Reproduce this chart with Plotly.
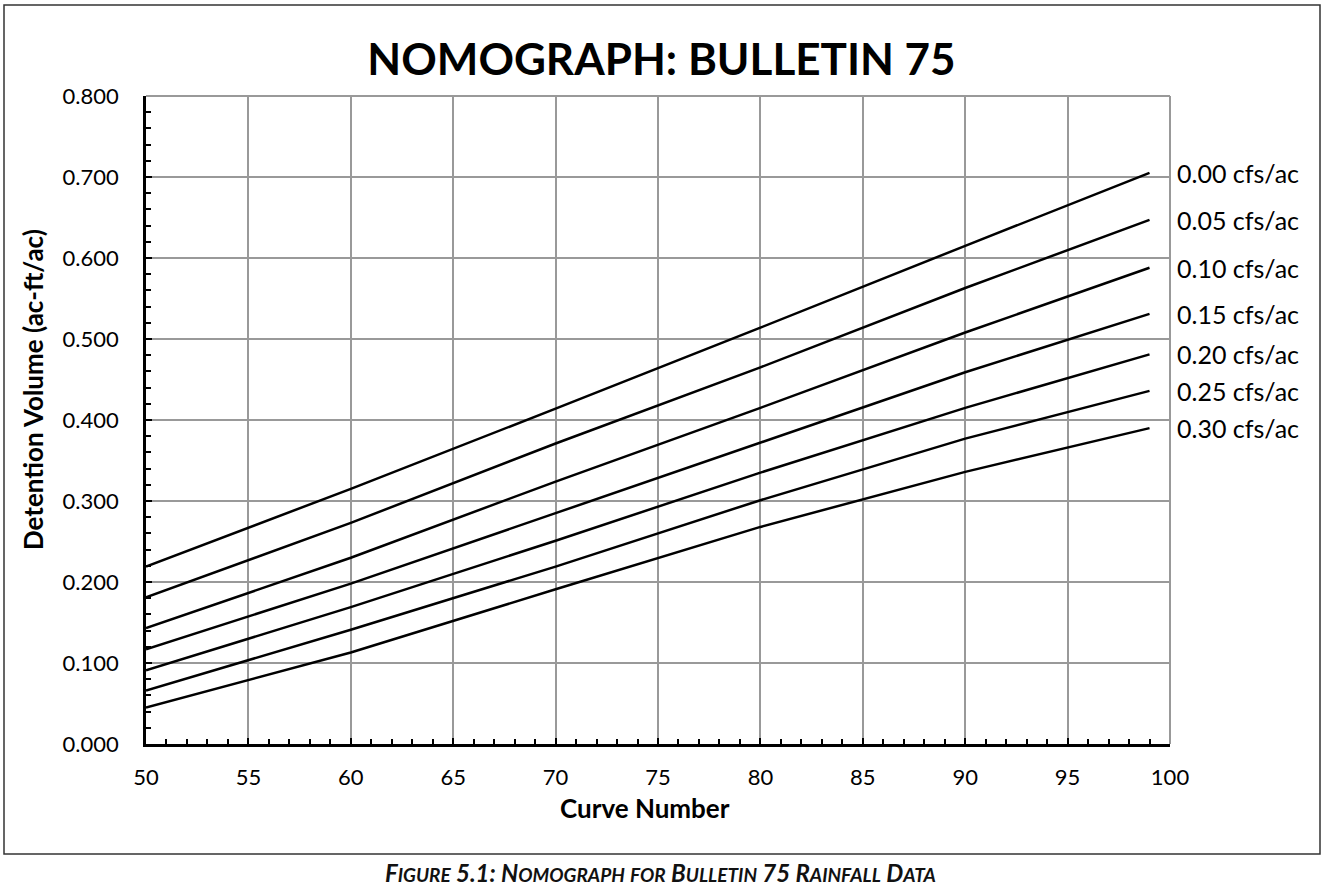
import plotly.graph_objects as go

curve_numbers = [50, 60, 70, 80, 90, 99]
release_labels = ["0.00 cfs/ac", "0.05 cfs/ac", "0.10 cfs/ac", "0.15 cfs/ac",
                  "0.20 cfs/ac", "0.25 cfs/ac", "0.30 cfs/ac"]
vol_000 = [0.219, 0.315, 0.414, 0.514, 0.615, 0.705]
vol_005 = [0.181, 0.273, 0.371, 0.465, 0.563, 0.647]
vol_010 = [0.143, 0.230, 0.324, 0.415, 0.508, 0.588]
vol_015 = [0.117, 0.198, 0.285, 0.372, 0.459, 0.531]
vol_020 = [0.091, 0.169, 0.251, 0.335, 0.415, 0.481]
vol_025 = [0.066, 0.141, 0.219, 0.301, 0.377, 0.436]
vol_030 = [0.045, 0.113, 0.191, 0.268, 0.336, 0.390]
series = [vol_000, vol_005, vol_010, vol_015, vol_020, vol_025, vol_030]

FONT = "Lato"
fig = go.Figure()
for lab, vals in zip(release_labels, series):
    fig.add_trace(go.Scatter(x=curve_numbers, y=vals, mode="lines",
                             line=dict(color="black", width=2.5), name=lab,
                             showlegend=False))
    fig.add_annotation(x=100, y=vals[-1], xref="x", yref="y", text=lab,
                       xanchor="left", yanchor="middle", xshift=5,
                       showarrow=False, font=dict(family=FONT, size=25, color="black"))

W, H = 1323, 888
L, R, T, B = 146, 153, 96, 144
pw, ph = W - L - R, H - T - B

def px(xp):
    return (xp - L) / pw

def py(yp):
    return (H - B - yp) / ph

fig.update_layout(
    width=W, height=H,
    margin=dict(l=L, r=R, t=T, b=B),
    paper_bgcolor="white", plot_bgcolor="white",
    font=dict(family=FONT, color="black"),
    title=dict(text="<b>NOMOGRAPH: BULLETIN 75</b>", x=0.5, xanchor="center",
               y=1 - 60 / H, yanchor="middle", font=dict(family=FONT, size=44, color="black")),
)
fig.update_xaxes(range=[50, 100], dtick=5, tick0=50,
                 showgrid=True, gridcolor="#999999", gridwidth=2,
                 showline=True, linecolor="black", linewidth=2.5,
                 ticks="inside", ticklen=6, tickwidth=2, tickcolor="black",
                 minor=dict(dtick=1, ticks="inside", ticklen=5, tickwidth=2, tickcolor="black", showgrid=False),
                 tickfont=dict(family=FONT, size=22, color="black"),
                 ticklabelstandoff=12, zeroline=False)
fig.update_yaxes(range=[0, 0.8], dtick=0.1, tick0=0, tickformat=".3f",
                 showgrid=True, gridcolor="#999999", gridwidth=2,
                 showline=True, linecolor="black", linewidth=2.5,
                 ticks="inside", ticklen=6, tickwidth=2, tickcolor="black",
                 minor=dict(dtick=0.02, ticks="inside", ticklen=5, tickwidth=2, tickcolor="black", showgrid=False),
                 tickfont=dict(family=FONT, size=22, color="black"),
                 ticklabelstandoff=20, zeroline=False)

# top and right plot borders (gray)
fig.add_shape(type="line", xref="paper", yref="paper", x0=0, x1=1, y0=1, y1=1,
              line=dict(color="#999999", width=2), layer="below")
fig.add_shape(type="line", xref="paper", yref="paper", x0=1, x1=1, y0=0, y1=1,
              line=dict(color="#999999", width=2), layer="below")
# outer frame
fig.add_shape(type="rect", xref="paper", yref="paper",
              x0=px(4), x1=px(1320), y0=py(5), y1=py(854),
              line=dict(color="#333333", width=1.5))

fig.add_annotation(x=px(645), y=py(808), xref="paper", yref="paper",
                   xanchor="center", yanchor="middle",
                   text="<b>Curve Number</b>", showarrow=False,
                   font=dict(family=FONT, size=26, color="black"))
fig.add_annotation(x=px(33), y=py(390), xref="paper", yref="paper",
                   xanchor="center", yanchor="middle",
                   text="<b>Detention Volume (ac-ft/ac)</b>", showarrow=False, textangle=-90,
                   font=dict(family=FONT, size=26, color="black"))

def sc(first, rest):
    return first + "<span style='font-size:19px'>" + rest + "</span>"

def small(word):
    return "<span style='font-size:19px'>" + word + "</span>"

caption = " ".join([sc("F", "IGURE"), "5.1:", sc("N", "OMOGRAPH"), small("FOR"),
                    sc("B", "ULLETIN"), "75", sc("R", "AINFALL"), sc("D", "ATA")])
fig.add_annotation(x=px(660), y=py(872), xref="paper", yref="paper",
                   xanchor="center", yanchor="middle",
                   text="<b><i>" + caption + "</i></b>", showarrow=False,
                   font=dict(family=FONT, size=24, color="#111111"))

fig.write_html("out.html")
